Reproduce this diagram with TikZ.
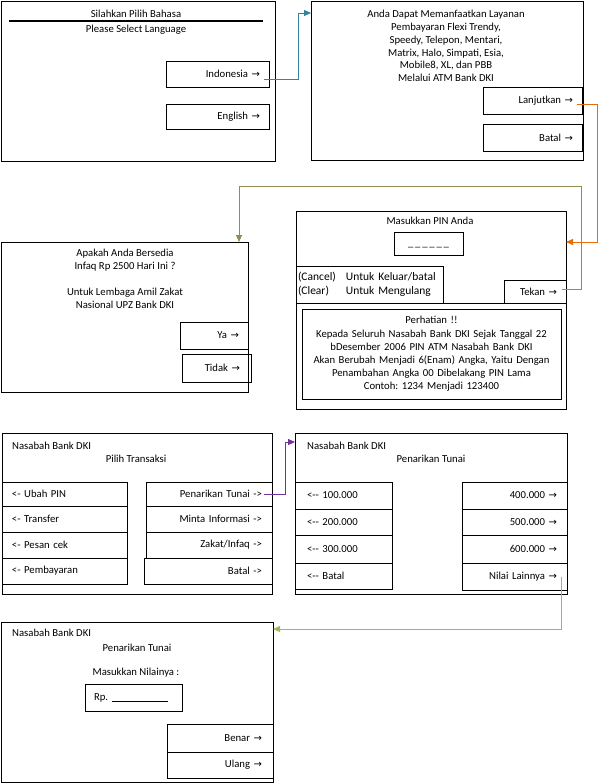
\documentclass[tikz,border=0pt]{standalone}
\usepackage{fontspec}
\setmainfont{Carlito}
\newfontfamily\arrowfont{DejaVu Sans}
\usetikzlibrary{arrows.meta}

\definecolor{linkteal}{HTML}{31859C}
\definecolor{linkorange}{HTML}{E46C0A}
\definecolor{linkolive}{HTML}{948A54}
\definecolor{linkpurple}{HTML}{7030A0}
\definecolor{linkgreen}{HTML}{9BBB59}

\newcommand{\goarrow}{{\arrowfont\fontsize{10}{10}\selectfont →}}

\tikzset{
  panel/.style={draw, line width=0.8pt, anchor=north west, inner sep=0pt, outer sep=0pt},
  btn/.style={draw, line width=0.8pt, anchor=north west, inner xsep=9pt, inner ysep=0pt, outer sep=0pt, align=right},
  lbtn/.style={btn, align=left, inner xsep=10pt},
  txt/.style={inner sep=0pt},
  link/.style={line width=0.8pt, -{Triangle[length=7pt,width=6pt]}},
}

\begin{document}
\frenchspacing
\begin{tikzpicture}[x=1pt, y=-1pt, font=\fontsize{10.7}{13}\selectfont]
\useasboundingbox (0,0) rectangle (599,784);

% bahasa
\node[panel, minimum width=274pt, minimum height=160pt] (lang) at (1,1) {};
\node[txt] (langtitle) at (136,14) {Silahkan Pilih Bahasa};
\draw[line width=2pt] (9,21) -- (263,21);
\node[txt] (langsub) at (136,30) {Please Select Language};
\node[btn, text width=85pt, minimum height=26pt] (ind) at (166,61) {Indonesia \goarrow};
\node[btn, text width=85pt, minimum height=25pt] (eng) at (166,104) {English \goarrow};

% layanan
\node[panel, minimum width=272pt, minimum height=159pt] (info) at (311,1) {};
\node[txt, align=center, font=\fontsize{10.7}{12.8}\selectfont] (infotext) at (446,46) {Anda Dapat Memanfaatkan Layanan\\Pembayaran Flexi Trendy,\\Speedy, Telepon, Mentari,\\Matrix, Halo, Simpati, Esia,\\Mobile8, XL, dan PBB\\Melalui ATM Bank DKI};
\node[btn, text width=81pt, minimum height=27pt] (lanj) at (483,87) {Lanjutkan \goarrow};
\node[btn, text width=81pt, minimum height=27pt] (batal) at (483,124) {Batal \goarrow};

% pin
\node[panel, minimum width=270pt, minimum height=198pt] (pin) at (296,211) {};
\node[txt] (pintitle) at (430,221) {Masukkan PIN Anda};
\node[btn, align=center, text width=51pt, minimum height=23pt] (pinfield) at (394,232) {\strut\_\,\_\,\_\,\_\,\_\,\_};
\draw[line width=0.8pt] (296,303) -- (566,303);
\node[btn, align=left, inner xsep=2pt, text width=143pt, minimum height=37pt, font=\fontsize{11.5}{14}\selectfont] (cancel) at (296,266) {\makebox[48pt][l]{(Cancel)}Untuk Keluar/batal\\\makebox[48pt][l]{(Clear)}Untuk Mengulang};
\node[btn, text width=44pt, minimum height=23pt] (tekan) at (504,280) {Tekan \goarrow};
\node[btn, align=center, inner xsep=2pt, text width=255pt, minimum height=90pt, font=\fontsize{10.7}{13.2}\selectfont] (warn) at (302,309) {Perhatian !!\\Kepada Seluruh Nasabah Bank DKI Sejak Tanggal 22\\bDesember 2006 PIN ATM Nasabah Bank DKI\\Akan Berubah Menjadi 6(Enam) Angka, Yaitu Dengan\\Penambahan Angka 00 Dibelakang PIN Lama\\Contoh: 1234 Menjadi 123400};

% infaq
\node[panel, minimum width=247pt, minimum height=150pt] (infaq) at (1,242) {};
\node[txt, align=center] (infaqtext) at (125,279) {Apakah Anda Bersedia\\Infaq Rp 2500 Hari Ini ?\\[13pt]Untuk Lembaga Amil Zakat\\Nasional UPZ Bank DKI};
\node[btn, text width=50pt, minimum height=27pt] (ya) at (180,322) {Ya \goarrow};
\node[btn, inner xsep=11pt, text width=47pt, minimum height=28pt] (tidak) at (182,354) {Tidak \goarrow};

% pilih transaksi
\node[panel, minimum width=270pt, minimum height=161pt] (trans) at (2,433) {};
\node[txt, anchor=west] (transbank) at (12,446) {Nasabah Bank DKI};
\node[txt] (transtitle) at (136,459) {Pilih Transaksi};
\node[lbtn, text width=105pt, minimum height=24pt] (ubah) at (2,482) {<- Ubah PIN};
\node[lbtn, text width=105pt, minimum height=26pt] (transfer) at (ubah.south west) {<- Transfer};
\node[lbtn, text width=105pt, minimum height=26pt] (pesan) at (transfer.south west) {<- Pesan cek};
\node[lbtn, text width=105pt, minimum height=26pt] (bayar) at (pesan.south west) {<- Pembayaran};
\node[btn, inner xsep=10pt, text width=106pt, minimum height=24pt] (tarik) at (146,482) {Penarikan Tunai ->};
\node[btn, inner xsep=10pt, text width=106pt, minimum height=26pt] (minta) at (tarik.south west) {Minta Informasi ->};
\node[btn, inner xsep=10pt, text width=106pt, minimum height=26pt] (zakat) at (minta.south west) {Zakat/Infaq ->};
\node[btn, inner xsep=10pt, text width=108pt, minimum height=26pt] (transbatal) at (144,558) {Batal ->};

% penarikan tunai
\node[panel, minimum width=272pt, minimum height=161pt] (pen) at (295,433) {};
\node[txt, anchor=west] (penbank) at (307,446) {Nasabah Bank DKI};
\node[txt] (pentitle) at (431,459) {Penarikan Tunai};
\node[lbtn, inner xsep=12pt, text width=73pt, minimum height=27pt] (seratus) at (295,482) {<-{}- 100.000};
\node[lbtn, inner xsep=12pt, text width=73pt, minimum height=26pt] (duaratus) at (seratus.south west) {<-{}- 200.000};
\node[lbtn, inner xsep=12pt, text width=73pt, minimum height=28pt] (tigaratus) at (duaratus.south west) {<-{}- 300.000};
\node[lbtn, inner xsep=12pt, text width=73pt, minimum height=26pt] (penbatal) at (tigaratus.south west) {<-{}- Batal};
\node[btn, inner xsep=10pt, text width=85pt, minimum height=27pt] (empat) at (462,482) {400.000 \goarrow};
\node[btn, inner xsep=10pt, text width=85pt, minimum height=26pt] (lima) at (empat.south west) {500.000 \goarrow};
\node[btn, inner xsep=10pt, text width=85pt, minimum height=28pt] (enam) at (lima.south west) {600.000 \goarrow};
\node[btn, inner xsep=10pt, text width=85pt, minimum height=27pt] (nilai) at (enam.south west) {Nilai Lainnya \goarrow};

% nilai lainnya
\node[panel, minimum width=272pt, minimum height=160pt] (nom) at (1,622) {};
\node[txt, anchor=west] (nombank) at (12,633) {Nasabah Bank DKI};
\node[txt] (nomtitle) at (137,648) {Penarikan Tunai};
\node[txt] (nomask) at (136,673) {Masukkan Nilainya :};
\node[lbtn, inner xsep=9pt, text width=79pt, minimum height=27pt] (rp) at (85,684) {Rp.\ \rule[-1.5pt]{56pt}{0.6pt}};
\node[btn, inner xsep=11pt, text width=84pt, minimum height=28pt] (benar) at (167,724) {Benar \goarrow};
\node[btn, inner xsep=11pt, text width=84pt, minimum height=26pt] (ulang) at (benar.south west) {Ulang \goarrow};

% alur
\draw[link, linkteal] ([xshift=-5pt,yshift=-5pt]ind.east) -| ([xshift=-13pt,yshift=-12pt]info.north west) -- ([yshift=-12pt]info.north west);
\draw[link, linkorange] ([xshift=-5pt,yshift=-3.5pt]lanj.east) -- ++(20,0) |- ([yshift=-31pt]pin.north east);
\draw[link, linkolive] ([xshift=-4pt,yshift=2.5pt]tekan.east) -- ++(19,0) -- ++(0,-103) -| ([xshift=-9pt]infaq.north east);
\draw[link, linkpurple] ([xshift=-8pt]tarik.east) -| ([xshift=-10pt,yshift=-9pt]pen.north west) -- ([yshift=-9pt]pen.north west);
\draw[link, linkgreen] ([xshift=-6pt]nilai.east) |- ([yshift=-7pt]nom.north east);
\end{tikzpicture}
\end{document}
